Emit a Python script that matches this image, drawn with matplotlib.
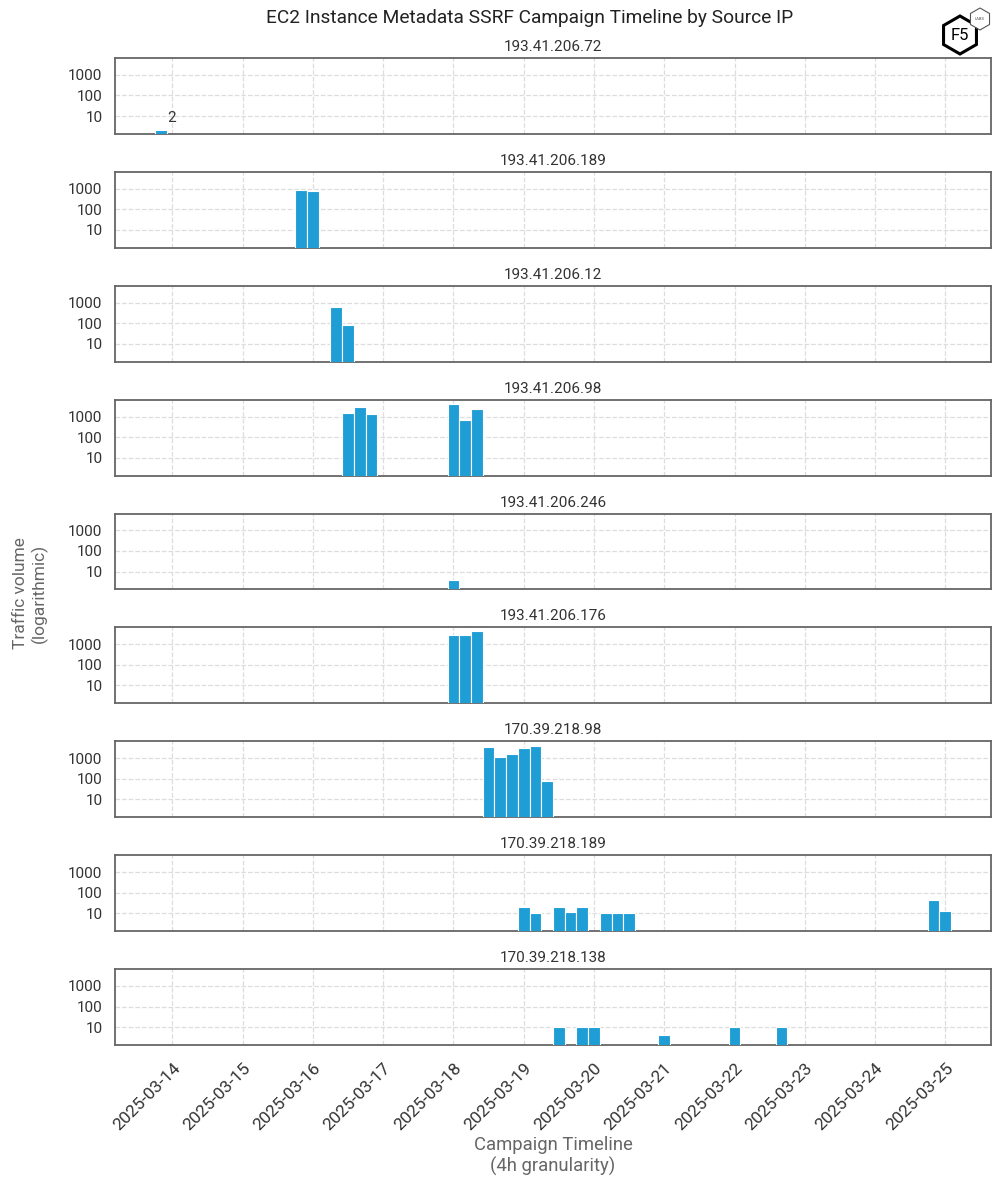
import numpy as np
import pandas as pd
import matplotlib
matplotlib.use("Agg")
import matplotlib.pyplot as plt
import matplotlib.dates as mdates
from matplotlib.patches import RegularPolygon
from matplotlib.ticker import NullLocator

plt.rcParams['font.family'] = ['Roboto', 'DejaVu Sans']

# data: 4h buckets per source ip
ips = ["193.41.206.72", "193.41.206.189", "193.41.206.12", "193.41.206.98",
       "193.41.206.246", "193.41.206.176", "170.39.218.98", "170.39.218.189",
       "170.39.218.138"]

t_72 = ["2025-03-13 20:00"]
c_72 = [2]

t_189 = ["2025-03-15 20:00", "2025-03-16 00:00"]
c_189 = [900, 820]

t_12 = ["2025-03-16 08:00", "2025-03-16 12:00"]
c_12 = [640, 80]

t_98 = ["2025-03-16 12:00", "2025-03-16 16:00", "2025-03-16 20:00",
        "2025-03-18 00:00", "2025-03-18 04:00", "2025-03-18 08:00"]
c_98 = [1450, 2870, 1400, 4170, 710, 2290]

t_246 = ["2025-03-18 00:00"]
c_246 = [4]

t_176 = ["2025-03-18 00:00", "2025-03-18 04:00", "2025-03-18 08:00"]
c_176 = [2950, 2720, 4250]

t_b98 = ["2025-03-18 12:00", "2025-03-18 16:00", "2025-03-18 20:00",
         "2025-03-19 00:00", "2025-03-19 04:00", "2025-03-19 08:00"]
c_b98 = [3400, 1120, 1560, 3050, 3800, 74]

t_b189 = ["2025-03-19 00:00", "2025-03-19 04:00", "2025-03-19 12:00",
          "2025-03-19 16:00", "2025-03-19 20:00", "2025-03-20 04:00",
          "2025-03-20 08:00", "2025-03-20 12:00", "2025-03-24 20:00",
          "2025-03-25 00:00"]
c_b189 = [21, 10, 19, 12, 21, 10, 10, 10, 46, 13]

t_b138 = ["2025-03-19 12:00", "2025-03-19 20:00", "2025-03-20 00:00",
          "2025-03-21 00:00", "2025-03-22 00:00", "2025-03-22 16:00"]
c_b138 = [10, 10, 10, 4, 10, 10]

times = [t_72, t_189, t_12, t_98, t_246, t_176, t_b98, t_b189, t_b138]
counts = [c_72, c_189, c_12, c_98, c_246, c_176, c_b98, c_b189, c_b138]

ytick_vals = [10, 100, 1000]
ytick_labels = ["10", "100", "1000"]

bar_color = "#1f9ed6"
W, H = 1000, 1187

fig, axes = plt.subplots(len(ips), 1, figsize=(W / 100, H / 100), dpi=100, sharex=True)
fig.subplots_adjust(left=0.115, right=0.991, top=1 - 58 / H, bottom=1 - 1045 / H, hspace=0.5)

for ax, ip, t, c in zip(axes, ips, times, counts):
    x = pd.to_datetime(t)
    ax.bar(x, c, width=4 / 24, color=bar_color, edgecolor="white", linewidth=0.8, zorder=3)
    ax.set_yscale("log")
    ax.set_ylim(1.35, 6600)
    ax.set_yticks(ytick_vals)
    ax.set_yticklabels(ytick_labels)
    ax.yaxis.set_minor_locator(NullLocator())
    ax.grid(True, linestyle="--", color="#dddddd", linewidth=0.9, zorder=0)
    ax.set_axisbelow(True)
    ax.set_title(ip, fontsize=11, color="#333333", pad=5)
    for s in ax.spines.values():
        s.set_color("#666666")
        s.set_linewidth(1.3)
    ax.tick_params(axis="both", length=0, labelsize=11, labelcolor="#333333")
    ax.tick_params(axis="y", pad=9)

# only the first panel gets a value label
axes[0].annotate(str(c_72[0]), (pd.to_datetime(t_72[0]), c_72[0]), xytext=(8, 4),
                 textcoords="offset points", ha="center", va="bottom",
                 fontsize=11, color="#333333")

axes[-1].xaxis.set_major_locator(mdates.DayLocator())
axes[-1].xaxis.set_major_formatter(mdates.DateFormatter("%Y-%m-%d"))
axes[-1].tick_params(axis="x", pad=11, labelsize=12.5)
for lbl in axes[-1].get_xticklabels():
    lbl.set_rotation(45)
    lbl.set_ha("right")
    lbl.set_rotation_mode("anchor")
axes[-1].set_xlabel("Campaign Timeline\n(4h granularity)", fontsize=13.3, color="#666666", labelpad=2)

fig.text(0.03, 0.5, "Traffic volume\n(logarithmic)", rotation=90, ha="center", va="center",
         fontsize=12.5, color="#666666")
fig.text(0.53, 1 - 18 / H, "EC2 Instance Metadata SSRF Campaign Timeline by Source IP",
         ha="center", va="center", fontsize=13.8, color="#222222")

# F5 labs logo
lg = fig.add_axes([930 / W, 1 - 58 / H, 65 / W, 58 / H])
lg.set_xlim(930, 995)
lg.set_ylim(58, 0)
lg.axis("off")
lg.add_patch(RegularPolygon((960, 35), 6, radius=19, fill=False, edgecolor="black", linewidth=2.2))
lg.add_patch(RegularPolygon((980, 19), 6, radius=11, facecolor="white", edgecolor="#555555", linewidth=0.8))
lg.text(960, 36, "F5", ha="center", va="center", fontsize=12, color="black")
lg.text(980, 19, "LABS", ha="center", va="center", fontsize=3, color="#555555")

fig.savefig("out.png", dpi=100)
